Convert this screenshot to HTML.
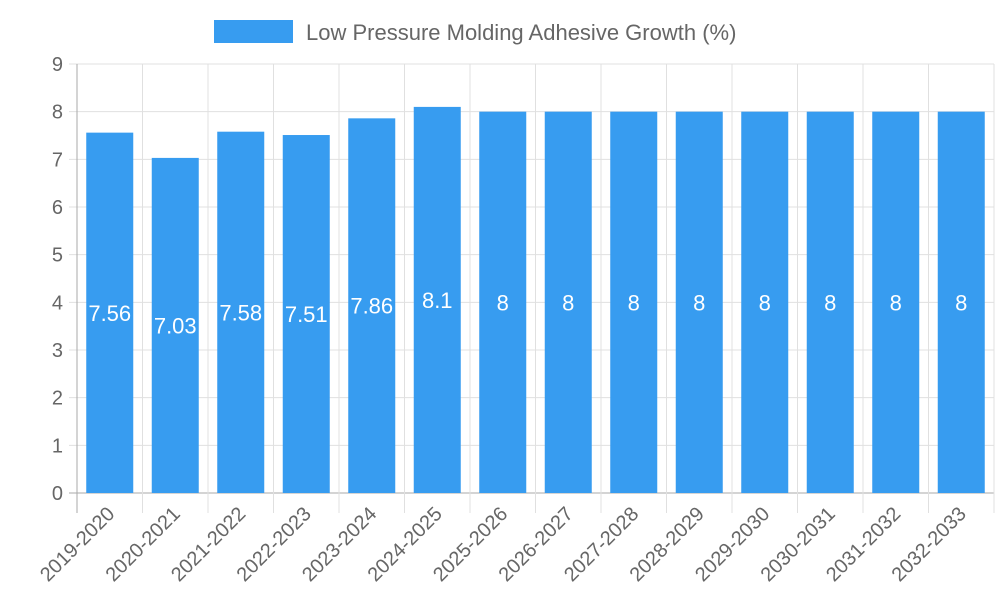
<!DOCTYPE html>
<html><head><meta charset="utf-8"><style>body{margin:0;background:#fff}svg{display:block;font-family:"Liberation Sans",sans-serif}</style></head>
<body>
<svg id="c" width="1000" height="600">
<rect x="214" y="20" width="79" height="23" fill="#379cf0"/>
<text x="306" y="40" font-size="22" fill="#666">Low Pressure Molding Adhesive Growth (%)</text>
<g id="g"></g>
</svg>
<script>
const categories=["2019-2020","2020-2021","2021-2022","2022-2023","2023-2024","2024-2025","2025-2026","2026-2027","2027-2028","2028-2029","2029-2030","2030-2031","2031-2032","2032-2033"];
const values=[7.56,7.03,7.58,7.51,7.86,8.1,8,8,8,8,8,8,8,8];
const yTicks=[0,1,2,3,4,5,6,7,8,9];
const L=77,R=994,T=64,B=493,YMAX=9;
const g=document.getElementById('g');const NS='http://www.w3.org/2000/svg';
function y(v){return B-(v/YMAX)*(B-T);}
const bw=(R-L)/categories.length;
function x(i){return L+i*bw;}
function mk(t,a,p){const e=document.createElementNS(NS,t);for(const k in a)e.setAttribute(k,a[k]);(p||g).appendChild(e);return e;}
yTicks.forEach(v=>{
 const l=mk('line',{x1:L-8,x2:R,y1:y(v),y2:y(v),stroke:v===0?'#aaa':'#e0e0e0'});
 
 
 const t=mk('text',{x:L-14,y:y(v)+7,'font-size':20,fill:'#666','text-anchor':'end'});t.textContent=v;
 
 
});
for(let i=0;i<=categories.length;i++){
 const l=mk('line',{x1:x(i),x2:x(i),y1:T,y2:B+20,stroke:i===0?'#aaa':'#e0e0e0'});
 
 
}
categories.forEach((c,i)=>{
 const cx=x(i)+bw/2,v=values[i];
 const r=mk('rect',{x:cx-23.5,y:y(v),width:47,height:B-y(v),fill:'#379cf0'});
 
 
 const t=mk('text',{x:cx,y:y(v/2)+8,'font-size':22,fill:'#fff','text-anchor':'middle'});t.textContent=v;
 
 
 const xl=mk('text',{x:0,y:0,'font-size':20,fill:'#666','text-anchor':'end',transform:`translate(${cx+6},${B+22}) rotate(-45)`});xl.textContent=c;
 
 
});
</script>
</body></html>
